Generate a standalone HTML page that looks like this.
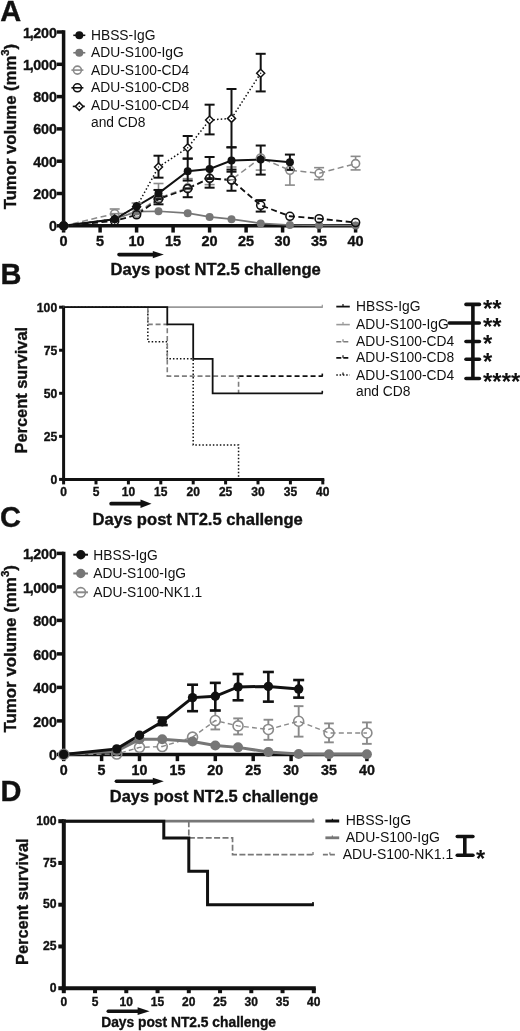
<!DOCTYPE html>
<html><head><meta charset="utf-8"><title>Figure</title>
<style>html,body{margin:0;padding:0;background:#fff;}body{width:520px;height:1031px;overflow:hidden;}svg{display:block;}</style>
</head><body>
<svg width="520" height="1031" viewBox="0 0 520 1031" font-family="'Liberation Sans', Arial, Helvetica, sans-serif">
<rect width="520" height="1031" fill="#fff"/>
<text x="0.30" y="21.00" font-size="29" font-weight="bold" text-anchor="start" fill="#111"  stroke="#111" stroke-width="0.35">A</text>
<line x1="63.60" y1="30.25" x2="63.60" y2="227.55" stroke="#111" stroke-width="3.5" stroke-linecap="butt"/>
<line x1="61.85" y1="225.80" x2="357.35" y2="225.80" stroke="#111" stroke-width="3.5" stroke-linecap="butt"/>
<line x1="56.85" y1="225.80" x2="63.60" y2="225.80" stroke="#111" stroke-width="3.5" stroke-linecap="butt"/>
<text x="57.00" y="231.30" font-size="14.3" font-weight="bold" text-anchor="end" fill="#111"  stroke="#111" stroke-width="0.35">0</text>
<line x1="56.85" y1="193.50" x2="63.60" y2="193.50" stroke="#111" stroke-width="3.5" stroke-linecap="butt"/>
<text x="57.00" y="199.00" font-size="14.3" font-weight="bold" text-anchor="end" fill="#111"  stroke="#111" stroke-width="0.35">200</text>
<line x1="56.85" y1="161.20" x2="63.60" y2="161.20" stroke="#111" stroke-width="3.5" stroke-linecap="butt"/>
<text x="57.00" y="166.70" font-size="14.3" font-weight="bold" text-anchor="end" fill="#111"  stroke="#111" stroke-width="0.35">400</text>
<line x1="56.85" y1="128.90" x2="63.60" y2="128.90" stroke="#111" stroke-width="3.5" stroke-linecap="butt"/>
<text x="57.00" y="134.40" font-size="14.3" font-weight="bold" text-anchor="end" fill="#111"  stroke="#111" stroke-width="0.35">600</text>
<line x1="56.85" y1="96.60" x2="63.60" y2="96.60" stroke="#111" stroke-width="3.5" stroke-linecap="butt"/>
<text x="57.00" y="102.10" font-size="14.3" font-weight="bold" text-anchor="end" fill="#111"  stroke="#111" stroke-width="0.35">800</text>
<line x1="56.85" y1="64.30" x2="63.60" y2="64.30" stroke="#111" stroke-width="3.5" stroke-linecap="butt"/>
<text x="57.00" y="69.80" font-size="14.3" font-weight="bold" text-anchor="end" fill="#111"  stroke="#111" stroke-width="0.35"><tspan dx="0">1</tspan><tspan dx="-1.3">,</tspan><tspan dx="-0.6">000</tspan></text>
<line x1="56.85" y1="32.00" x2="63.60" y2="32.00" stroke="#111" stroke-width="3.5" stroke-linecap="butt"/>
<text x="57.00" y="37.50" font-size="14.3" font-weight="bold" text-anchor="end" fill="#111"  stroke="#111" stroke-width="0.35"><tspan dx="0">1</tspan><tspan dx="-1.3">,</tspan><tspan dx="-0.6">200</tspan></text>
<line x1="63.60" y1="225.80" x2="63.60" y2="232.55" stroke="#111" stroke-width="3.5" stroke-linecap="butt"/>
<text x="63.60" y="245.80" font-size="14.5" font-weight="bold" text-anchor="middle" fill="#111"  stroke="#111" stroke-width="0.35">0</text>
<line x1="100.10" y1="225.80" x2="100.10" y2="232.55" stroke="#111" stroke-width="3.5" stroke-linecap="butt"/>
<text x="100.10" y="245.80" font-size="14.5" font-weight="bold" text-anchor="middle" fill="#111"  stroke="#111" stroke-width="0.35">5</text>
<line x1="136.60" y1="225.80" x2="136.60" y2="232.55" stroke="#111" stroke-width="3.5" stroke-linecap="butt"/>
<text x="136.60" y="245.80" font-size="14.5" font-weight="bold" text-anchor="middle" fill="#111"  stroke="#111" stroke-width="0.35">10</text>
<line x1="173.10" y1="225.80" x2="173.10" y2="232.55" stroke="#111" stroke-width="3.5" stroke-linecap="butt"/>
<text x="173.10" y="245.80" font-size="14.5" font-weight="bold" text-anchor="middle" fill="#111"  stroke="#111" stroke-width="0.35">15</text>
<line x1="209.60" y1="225.80" x2="209.60" y2="232.55" stroke="#111" stroke-width="3.5" stroke-linecap="butt"/>
<text x="209.60" y="245.80" font-size="14.5" font-weight="bold" text-anchor="middle" fill="#111"  stroke="#111" stroke-width="0.35">20</text>
<line x1="246.10" y1="225.80" x2="246.10" y2="232.55" stroke="#111" stroke-width="3.5" stroke-linecap="butt"/>
<text x="246.10" y="245.80" font-size="14.5" font-weight="bold" text-anchor="middle" fill="#111"  stroke="#111" stroke-width="0.35">25</text>
<line x1="282.60" y1="225.80" x2="282.60" y2="232.55" stroke="#111" stroke-width="3.5" stroke-linecap="butt"/>
<text x="282.60" y="245.80" font-size="14.5" font-weight="bold" text-anchor="middle" fill="#111"  stroke="#111" stroke-width="0.35">30</text>
<line x1="319.10" y1="225.80" x2="319.10" y2="232.55" stroke="#111" stroke-width="3.5" stroke-linecap="butt"/>
<text x="319.10" y="245.80" font-size="14.5" font-weight="bold" text-anchor="middle" fill="#111"  stroke="#111" stroke-width="0.35">35</text>
<line x1="355.60" y1="225.80" x2="355.60" y2="232.55" stroke="#111" stroke-width="3.5" stroke-linecap="butt"/>
<text x="355.60" y="245.80" font-size="14.5" font-weight="bold" text-anchor="middle" fill="#111"  stroke="#111" stroke-width="0.35">40</text>
<text transform="translate(16.3,209.3) rotate(-90)" font-size="16.7" font-weight="bold" fill="#111" stroke="#111" stroke-width="0.35">Tumor volume (mm<tspan dy="-7" font-size="11.3">3</tspan><tspan dy="7">)</tspan></text>
<line x1="119.00" y1="254.60" x2="153.80" y2="254.60" stroke="#111" stroke-width="3.6" stroke-linecap="round"/>
<polygon points="152.80,251.00 163.80,254.60 152.80,258.20" fill="#111"/>
<text x="110.60" y="275.00" font-size="16.6" font-weight="bold" text-anchor="start" fill="#111"  stroke="#111" stroke-width="0.35">Days post NT2.5 challenge</text>
<polyline points="63.60,225.80 114.70,219.02 136.60,211.59 158.50,211.27 187.70,213.20 209.60,216.92 231.50,219.18 260.70,223.38 289.90,224.99 319.10,225.32 355.60,225.48" fill="none" stroke="#767676" stroke-width="1.7" stroke-linecap="butt" stroke-linejoin="miter"/>
<polyline points="63.60,225.80 114.70,213.69 136.60,213.20 158.50,198.02 187.70,187.85 209.60,178.32 231.50,179.77 260.70,157.97 289.90,170.24 319.10,173.31 355.60,163.62" fill="none" stroke="#8a8a8a" stroke-width="1.5" stroke-linecap="butt" stroke-linejoin="miter" stroke-dasharray="6,3.5"/>
<polyline points="63.60,225.80 114.70,220.96 136.60,214.82 158.50,199.15 187.70,188.66 209.60,178.32 231.50,180.10 260.70,205.29 289.90,216.27 319.10,218.69 355.60,222.57" fill="none" stroke="#111" stroke-width="1.8" stroke-linecap="butt" stroke-linejoin="miter" stroke-dasharray="6,3.5"/>
<polyline points="63.60,225.80 114.70,219.02 136.60,206.74 158.50,167.01 187.70,147.80 209.60,120.02 231.50,118.40 260.70,73.18" fill="none" stroke="#111" stroke-width="1.5" stroke-linecap="butt" stroke-linejoin="miter" stroke-dasharray="1.5,2.2"/>
<polyline points="63.60,225.80 114.70,219.34 136.60,206.26 158.50,193.34 187.70,171.21 209.60,168.95 231.50,160.55 260.70,159.59 289.90,162.33" fill="none" stroke="#111" stroke-width="2.0" stroke-linecap="butt" stroke-linejoin="miter"/>
<line x1="114.70" y1="209.00" x2="114.70" y2="209.69" stroke="#8a8a8a" stroke-width="1.6" stroke-linecap="butt"/>
<line x1="109.70" y1="209.00" x2="119.70" y2="209.00" stroke="#8a8a8a" stroke-width="1.6" stroke-linecap="butt"/>
<line x1="109.70" y1="213.69" x2="119.70" y2="213.69" stroke="#8a8a8a" stroke-width="1.6" stroke-linecap="butt"/>
<line x1="136.60" y1="203.03" x2="136.60" y2="209.20" stroke="#8a8a8a" stroke-width="1.6" stroke-linecap="butt"/>
<line x1="131.60" y1="203.03" x2="141.60" y2="203.03" stroke="#8a8a8a" stroke-width="1.6" stroke-linecap="butt"/>
<line x1="131.60" y1="213.20" x2="141.60" y2="213.20" stroke="#8a8a8a" stroke-width="1.6" stroke-linecap="butt"/>
<line x1="158.50" y1="183.49" x2="158.50" y2="194.02" stroke="#8a8a8a" stroke-width="1.6" stroke-linecap="butt"/>
<line x1="153.50" y1="183.49" x2="163.50" y2="183.49" stroke="#8a8a8a" stroke-width="1.6" stroke-linecap="butt"/>
<line x1="153.50" y1="198.02" x2="163.50" y2="198.02" stroke="#8a8a8a" stroke-width="1.6" stroke-linecap="butt"/>
<line x1="187.70" y1="178.64" x2="187.70" y2="183.85" stroke="#8a8a8a" stroke-width="1.6" stroke-linecap="butt"/>
<line x1="182.70" y1="178.64" x2="192.70" y2="178.64" stroke="#8a8a8a" stroke-width="1.6" stroke-linecap="butt"/>
<line x1="182.70" y1="187.85" x2="192.70" y2="187.85" stroke="#8a8a8a" stroke-width="1.6" stroke-linecap="butt"/>
<line x1="209.60" y1="182.32" x2="209.60" y2="184.62" stroke="#8a8a8a" stroke-width="1.6" stroke-linecap="butt"/>
<line x1="204.60" y1="178.32" x2="214.60" y2="178.32" stroke="#8a8a8a" stroke-width="1.6" stroke-linecap="butt"/>
<line x1="204.60" y1="184.62" x2="214.60" y2="184.62" stroke="#8a8a8a" stroke-width="1.6" stroke-linecap="butt"/>
<line x1="231.50" y1="167.01" x2="231.50" y2="175.77" stroke="#8a8a8a" stroke-width="1.6" stroke-linecap="butt"/>
<line x1="226.50" y1="167.01" x2="236.50" y2="167.01" stroke="#8a8a8a" stroke-width="1.6" stroke-linecap="butt"/>
<line x1="226.50" y1="179.77" x2="236.50" y2="179.77" stroke="#8a8a8a" stroke-width="1.6" stroke-linecap="butt"/>
<line x1="260.70" y1="161.97" x2="260.70" y2="170.08" stroke="#8a8a8a" stroke-width="1.6" stroke-linecap="butt"/>
<line x1="255.70" y1="157.97" x2="265.70" y2="157.97" stroke="#8a8a8a" stroke-width="1.6" stroke-linecap="butt"/>
<line x1="255.70" y1="170.08" x2="265.70" y2="170.08" stroke="#8a8a8a" stroke-width="1.6" stroke-linecap="butt"/>
<line x1="289.90" y1="174.24" x2="289.90" y2="185.10" stroke="#8a8a8a" stroke-width="1.6" stroke-linecap="butt"/>
<line x1="284.90" y1="170.24" x2="294.90" y2="170.24" stroke="#8a8a8a" stroke-width="1.6" stroke-linecap="butt"/>
<line x1="284.90" y1="185.10" x2="294.90" y2="185.10" stroke="#8a8a8a" stroke-width="1.6" stroke-linecap="butt"/>
<line x1="319.10" y1="167.66" x2="319.10" y2="169.31" stroke="#8a8a8a" stroke-width="1.6" stroke-linecap="butt"/>
<line x1="319.10" y1="177.31" x2="319.10" y2="179.61" stroke="#8a8a8a" stroke-width="1.6" stroke-linecap="butt"/>
<line x1="314.10" y1="167.66" x2="324.10" y2="167.66" stroke="#8a8a8a" stroke-width="1.6" stroke-linecap="butt"/>
<line x1="314.10" y1="179.61" x2="324.10" y2="179.61" stroke="#8a8a8a" stroke-width="1.6" stroke-linecap="butt"/>
<line x1="355.60" y1="156.36" x2="355.60" y2="159.62" stroke="#8a8a8a" stroke-width="1.6" stroke-linecap="butt"/>
<line x1="355.60" y1="167.62" x2="355.60" y2="169.92" stroke="#8a8a8a" stroke-width="1.6" stroke-linecap="butt"/>
<line x1="350.60" y1="156.36" x2="360.60" y2="156.36" stroke="#8a8a8a" stroke-width="1.6" stroke-linecap="butt"/>
<line x1="350.60" y1="169.92" x2="360.60" y2="169.92" stroke="#8a8a8a" stroke-width="1.6" stroke-linecap="butt"/>
<line x1="158.50" y1="203.15" x2="158.50" y2="204.32" stroke="#111" stroke-width="2.0" stroke-linecap="butt"/>
<line x1="153.50" y1="199.15" x2="163.50" y2="199.15" stroke="#111" stroke-width="2.0" stroke-linecap="butt"/>
<line x1="153.50" y1="204.32" x2="163.50" y2="204.32" stroke="#111" stroke-width="2.0" stroke-linecap="butt"/>
<line x1="187.70" y1="192.66" x2="187.70" y2="197.21" stroke="#111" stroke-width="2.0" stroke-linecap="butt"/>
<line x1="182.70" y1="188.66" x2="192.70" y2="188.66" stroke="#111" stroke-width="2.0" stroke-linecap="butt"/>
<line x1="182.70" y1="197.21" x2="192.70" y2="197.21" stroke="#111" stroke-width="2.0" stroke-linecap="butt"/>
<line x1="209.60" y1="182.32" x2="209.60" y2="187.69" stroke="#111" stroke-width="2.0" stroke-linecap="butt"/>
<line x1="204.60" y1="178.32" x2="214.60" y2="178.32" stroke="#111" stroke-width="2.0" stroke-linecap="butt"/>
<line x1="204.60" y1="187.69" x2="214.60" y2="187.69" stroke="#111" stroke-width="2.0" stroke-linecap="butt"/>
<line x1="231.50" y1="169.60" x2="231.50" y2="176.10" stroke="#111" stroke-width="2.0" stroke-linecap="butt"/>
<line x1="231.50" y1="184.10" x2="231.50" y2="190.75" stroke="#111" stroke-width="2.0" stroke-linecap="butt"/>
<line x1="226.50" y1="169.60" x2="236.50" y2="169.60" stroke="#111" stroke-width="2.0" stroke-linecap="butt"/>
<line x1="226.50" y1="190.75" x2="236.50" y2="190.75" stroke="#111" stroke-width="2.0" stroke-linecap="butt"/>
<line x1="260.70" y1="200.12" x2="260.70" y2="201.29" stroke="#111" stroke-width="2.0" stroke-linecap="butt"/>
<line x1="260.70" y1="209.29" x2="260.70" y2="211.59" stroke="#111" stroke-width="2.0" stroke-linecap="butt"/>
<line x1="255.70" y1="200.12" x2="265.70" y2="200.12" stroke="#111" stroke-width="2.0" stroke-linecap="butt"/>
<line x1="255.70" y1="211.59" x2="265.70" y2="211.59" stroke="#111" stroke-width="2.0" stroke-linecap="butt"/>
<line x1="158.50" y1="155.71" x2="158.50" y2="163.01" stroke="#111" stroke-width="2.0" stroke-linecap="butt"/>
<line x1="158.50" y1="171.01" x2="158.50" y2="177.67" stroke="#111" stroke-width="2.0" stroke-linecap="butt"/>
<line x1="153.50" y1="155.71" x2="163.50" y2="155.71" stroke="#111" stroke-width="2.0" stroke-linecap="butt"/>
<line x1="153.50" y1="177.67" x2="163.50" y2="177.67" stroke="#111" stroke-width="2.0" stroke-linecap="butt"/>
<line x1="187.70" y1="136.01" x2="187.70" y2="143.80" stroke="#111" stroke-width="2.0" stroke-linecap="butt"/>
<line x1="187.70" y1="151.80" x2="187.70" y2="158.62" stroke="#111" stroke-width="2.0" stroke-linecap="butt"/>
<line x1="182.70" y1="136.01" x2="192.70" y2="136.01" stroke="#111" stroke-width="2.0" stroke-linecap="butt"/>
<line x1="182.70" y1="158.62" x2="192.70" y2="158.62" stroke="#111" stroke-width="2.0" stroke-linecap="butt"/>
<line x1="209.60" y1="104.68" x2="209.60" y2="116.02" stroke="#111" stroke-width="2.0" stroke-linecap="butt"/>
<line x1="209.60" y1="124.02" x2="209.60" y2="134.39" stroke="#111" stroke-width="2.0" stroke-linecap="butt"/>
<line x1="204.60" y1="104.68" x2="214.60" y2="104.68" stroke="#111" stroke-width="2.0" stroke-linecap="butt"/>
<line x1="204.60" y1="134.39" x2="214.60" y2="134.39" stroke="#111" stroke-width="2.0" stroke-linecap="butt"/>
<line x1="231.50" y1="89.01" x2="231.50" y2="114.40" stroke="#111" stroke-width="2.0" stroke-linecap="butt"/>
<line x1="231.50" y1="122.40" x2="231.50" y2="147.31" stroke="#111" stroke-width="2.0" stroke-linecap="butt"/>
<line x1="226.50" y1="89.01" x2="236.50" y2="89.01" stroke="#111" stroke-width="2.0" stroke-linecap="butt"/>
<line x1="226.50" y1="147.31" x2="236.50" y2="147.31" stroke="#111" stroke-width="2.0" stroke-linecap="butt"/>
<line x1="260.70" y1="53.80" x2="260.70" y2="69.18" stroke="#111" stroke-width="2.0" stroke-linecap="butt"/>
<line x1="260.70" y1="77.18" x2="260.70" y2="91.43" stroke="#111" stroke-width="2.0" stroke-linecap="butt"/>
<line x1="255.70" y1="53.80" x2="265.70" y2="53.80" stroke="#111" stroke-width="2.0" stroke-linecap="butt"/>
<line x1="255.70" y1="91.43" x2="265.70" y2="91.43" stroke="#111" stroke-width="2.0" stroke-linecap="butt"/>
<line x1="158.50" y1="189.95" x2="158.50" y2="196.41" stroke="#111" stroke-width="2.0" stroke-linecap="butt"/>
<line x1="153.50" y1="189.95" x2="163.50" y2="189.95" stroke="#111" stroke-width="2.0" stroke-linecap="butt"/>
<line x1="153.50" y1="196.41" x2="163.50" y2="196.41" stroke="#111" stroke-width="2.0" stroke-linecap="butt"/>
<line x1="187.70" y1="158.62" x2="187.70" y2="180.58" stroke="#111" stroke-width="2.0" stroke-linecap="butt"/>
<line x1="182.70" y1="158.62" x2="192.70" y2="158.62" stroke="#111" stroke-width="2.0" stroke-linecap="butt"/>
<line x1="182.70" y1="180.58" x2="192.70" y2="180.58" stroke="#111" stroke-width="2.0" stroke-linecap="butt"/>
<line x1="209.60" y1="157.00" x2="209.60" y2="178.97" stroke="#111" stroke-width="2.0" stroke-linecap="butt"/>
<line x1="204.60" y1="157.00" x2="214.60" y2="157.00" stroke="#111" stroke-width="2.0" stroke-linecap="butt"/>
<line x1="204.60" y1="178.97" x2="214.60" y2="178.97" stroke="#111" stroke-width="2.0" stroke-linecap="butt"/>
<line x1="231.50" y1="147.31" x2="231.50" y2="171.70" stroke="#111" stroke-width="2.0" stroke-linecap="butt"/>
<line x1="226.50" y1="147.31" x2="236.50" y2="147.31" stroke="#111" stroke-width="2.0" stroke-linecap="butt"/>
<line x1="226.50" y1="171.70" x2="236.50" y2="171.70" stroke="#111" stroke-width="2.0" stroke-linecap="butt"/>
<line x1="260.70" y1="145.53" x2="260.70" y2="174.60" stroke="#111" stroke-width="2.0" stroke-linecap="butt"/>
<line x1="255.70" y1="145.53" x2="265.70" y2="145.53" stroke="#111" stroke-width="2.0" stroke-linecap="butt"/>
<line x1="255.70" y1="174.60" x2="265.70" y2="174.60" stroke="#111" stroke-width="2.0" stroke-linecap="butt"/>
<line x1="289.90" y1="154.58" x2="289.90" y2="169.76" stroke="#111" stroke-width="2.0" stroke-linecap="butt"/>
<line x1="284.90" y1="154.58" x2="294.90" y2="154.58" stroke="#111" stroke-width="2.0" stroke-linecap="butt"/>
<line x1="284.90" y1="169.76" x2="294.90" y2="169.76" stroke="#111" stroke-width="2.0" stroke-linecap="butt"/>
<circle cx="63.60" cy="225.80" r="4.0" fill="#767676"/>
<circle cx="114.70" cy="219.02" r="4.0" fill="#767676"/>
<circle cx="136.60" cy="211.59" r="4.0" fill="#767676"/>
<circle cx="158.50" cy="211.27" r="4.0" fill="#767676"/>
<circle cx="187.70" cy="213.20" r="4.0" fill="#767676"/>
<circle cx="209.60" cy="216.92" r="4.0" fill="#767676"/>
<circle cx="231.50" cy="219.18" r="4.0" fill="#767676"/>
<circle cx="260.70" cy="223.38" r="4.0" fill="#767676"/>
<circle cx="289.90" cy="224.99" r="4.0" fill="#767676"/>
<circle cx="319.10" cy="225.32" r="4.0" fill="#767676"/>
<circle cx="355.60" cy="225.48" r="4.0" fill="#767676"/>
<circle cx="63.60" cy="225.80" r="4.0" fill="none" stroke="#8a8a8a" stroke-width="1.6"/>
<circle cx="114.70" cy="213.69" r="4.0" fill="none" stroke="#8a8a8a" stroke-width="1.6"/>
<circle cx="136.60" cy="213.20" r="4.0" fill="none" stroke="#8a8a8a" stroke-width="1.6"/>
<circle cx="158.50" cy="198.02" r="4.0" fill="none" stroke="#8a8a8a" stroke-width="1.6"/>
<circle cx="187.70" cy="187.85" r="4.0" fill="none" stroke="#8a8a8a" stroke-width="1.6"/>
<circle cx="209.60" cy="178.32" r="4.0" fill="none" stroke="#8a8a8a" stroke-width="1.6"/>
<circle cx="231.50" cy="179.77" r="4.0" fill="none" stroke="#8a8a8a" stroke-width="1.6"/>
<circle cx="260.70" cy="157.97" r="4.0" fill="none" stroke="#8a8a8a" stroke-width="1.6"/>
<circle cx="289.90" cy="170.24" r="4.0" fill="none" stroke="#8a8a8a" stroke-width="1.6"/>
<circle cx="319.10" cy="173.31" r="4.0" fill="none" stroke="#8a8a8a" stroke-width="1.6"/>
<circle cx="355.60" cy="163.62" r="4.0" fill="none" stroke="#8a8a8a" stroke-width="1.6"/>
<circle cx="63.60" cy="225.80" r="4.0" fill="none" stroke="#111" stroke-width="1.6"/>
<circle cx="114.70" cy="220.96" r="4.0" fill="none" stroke="#111" stroke-width="1.6"/>
<circle cx="136.60" cy="214.82" r="4.0" fill="none" stroke="#111" stroke-width="1.6"/>
<circle cx="158.50" cy="199.15" r="4.0" fill="none" stroke="#111" stroke-width="1.6"/>
<circle cx="187.70" cy="188.66" r="4.0" fill="none" stroke="#111" stroke-width="1.6"/>
<circle cx="209.60" cy="178.32" r="4.0" fill="none" stroke="#111" stroke-width="1.6"/>
<circle cx="231.50" cy="180.10" r="4.0" fill="none" stroke="#111" stroke-width="1.6"/>
<circle cx="260.70" cy="205.29" r="4.0" fill="none" stroke="#111" stroke-width="1.6"/>
<circle cx="289.90" cy="216.27" r="4.0" fill="none" stroke="#111" stroke-width="1.6"/>
<circle cx="319.10" cy="218.69" r="4.0" fill="none" stroke="#111" stroke-width="1.6"/>
<circle cx="355.60" cy="222.57" r="4.0" fill="none" stroke="#111" stroke-width="1.6"/>
<polygon points="63.60,221.80 67.60,225.80 63.60,229.80 59.60,225.80" fill="#fff" stroke="#111" stroke-width="1.5"/>
<circle cx="63.60" cy="225.80" r="0.7" fill="#111"/>
<polygon points="114.70,215.02 118.70,219.02 114.70,223.02 110.70,219.02" fill="#fff" stroke="#111" stroke-width="1.5"/>
<circle cx="114.70" cy="219.02" r="0.7" fill="#111"/>
<polygon points="136.60,202.74 140.60,206.74 136.60,210.74 132.60,206.74" fill="#fff" stroke="#111" stroke-width="1.5"/>
<circle cx="136.60" cy="206.74" r="0.7" fill="#111"/>
<polygon points="158.50,163.01 162.50,167.01 158.50,171.01 154.50,167.01" fill="#fff" stroke="#111" stroke-width="1.5"/>
<circle cx="158.50" cy="167.01" r="0.7" fill="#111"/>
<polygon points="187.70,143.80 191.70,147.80 187.70,151.80 183.70,147.80" fill="#fff" stroke="#111" stroke-width="1.5"/>
<circle cx="187.70" cy="147.80" r="0.7" fill="#111"/>
<polygon points="209.60,116.02 213.60,120.02 209.60,124.02 205.60,120.02" fill="#fff" stroke="#111" stroke-width="1.5"/>
<circle cx="209.60" cy="120.02" r="0.7" fill="#111"/>
<polygon points="231.50,114.40 235.50,118.40 231.50,122.40 227.50,118.40" fill="#fff" stroke="#111" stroke-width="1.5"/>
<circle cx="231.50" cy="118.40" r="0.7" fill="#111"/>
<polygon points="260.70,69.18 264.70,73.18 260.70,77.18 256.70,73.18" fill="#fff" stroke="#111" stroke-width="1.5"/>
<circle cx="260.70" cy="73.18" r="0.7" fill="#111"/>
<circle cx="63.60" cy="225.80" r="4.0" fill="#111"/>
<circle cx="114.70" cy="219.34" r="4.0" fill="#111"/>
<circle cx="136.60" cy="206.26" r="4.0" fill="#111"/>
<circle cx="158.50" cy="193.34" r="4.0" fill="#111"/>
<circle cx="187.70" cy="171.21" r="4.0" fill="#111"/>
<circle cx="209.60" cy="168.95" r="4.0" fill="#111"/>
<circle cx="231.50" cy="160.55" r="4.0" fill="#111"/>
<circle cx="260.70" cy="159.59" r="4.0" fill="#111"/>
<circle cx="289.90" cy="162.33" r="4.0" fill="#111"/>
<line x1="73.30" y1="35.30" x2="85.30" y2="35.30" stroke="#111" stroke-width="1.6" stroke-linecap="butt"/>
<circle cx="79.30" cy="35.30" r="4.0" fill="#111"/>
<text x="91.00" y="40.10" font-size="13.8" font-weight="normal" text-anchor="start" fill="#111" >HBSS-IgG</text>
<line x1="73.30" y1="52.75" x2="85.30" y2="52.75" stroke="#767676" stroke-width="1.6" stroke-linecap="butt"/>
<circle cx="79.30" cy="52.75" r="4.0" fill="#767676"/>
<text x="91.00" y="57.20" font-size="13.8" font-weight="normal" text-anchor="start" fill="#111" >ADU-S100-IgG</text>
<line x1="71.40" y1="70.10" x2="83.40" y2="70.10" stroke="#8a8a8a" stroke-width="1.6" stroke-linecap="butt"/>
<circle cx="77.40" cy="70.10" r="4.0" fill="none" stroke="#8a8a8a" stroke-width="1.6"/>
<text x="91.00" y="74.70" font-size="13.8" font-weight="normal" text-anchor="start" fill="#111" >ADU-S100-CD4</text>
<line x1="71.40" y1="87.80" x2="83.40" y2="87.80" stroke="#111" stroke-width="1.6" stroke-linecap="butt"/>
<circle cx="77.40" cy="87.80" r="4.0" fill="none" stroke="#111" stroke-width="1.6"/>
<text x="91.00" y="92.00" font-size="13.8" font-weight="normal" text-anchor="start" fill="#111" >ADU-S100-CD8</text>
<line x1="72.80" y1="106.40" x2="75.30" y2="106.40" stroke="#111" stroke-width="1.6" stroke-linecap="butt"/>
<line x1="83.30" y1="106.40" x2="84.80" y2="106.40" stroke="#111" stroke-width="1.6" stroke-linecap="butt"/>
<polygon points="79.30,102.40 83.30,106.40 79.30,110.40 75.30,106.40" fill="#fff" stroke="#111" stroke-width="1.5"/>
<circle cx="79.30" cy="106.40" r="0.7" fill="#111"/>
<text x="91.00" y="110.10" font-size="13.8" font-weight="normal" text-anchor="start" fill="#111" >ADU-S100-CD4</text>
<text x="91.00" y="126.70" font-size="13.8" font-weight="normal" text-anchor="start" fill="#111" >and CD8</text>
<text x="0.40" y="283.60" font-size="29" font-weight="bold" text-anchor="start" fill="#111"  stroke="#111" stroke-width="0.35">B</text>
<line x1="63.60" y1="305.70" x2="63.60" y2="480.90" stroke="#111" stroke-width="3.0" stroke-linecap="butt"/>
<line x1="62.10" y1="479.40" x2="324.30" y2="479.40" stroke="#111" stroke-width="3.0" stroke-linecap="butt"/>
<line x1="59.10" y1="479.40" x2="63.60" y2="479.40" stroke="#111" stroke-width="3.0" stroke-linecap="butt"/>
<text x="57.20" y="483.70" font-size="12.2" font-weight="bold" text-anchor="end" fill="#111"  stroke="#111" stroke-width="0.35">0</text>
<line x1="59.10" y1="436.35" x2="63.60" y2="436.35" stroke="#111" stroke-width="3.0" stroke-linecap="butt"/>
<text x="57.20" y="440.65" font-size="12.2" font-weight="bold" text-anchor="end" fill="#111"  stroke="#111" stroke-width="0.35">25</text>
<line x1="59.10" y1="393.30" x2="63.60" y2="393.30" stroke="#111" stroke-width="3.0" stroke-linecap="butt"/>
<text x="57.20" y="397.60" font-size="12.2" font-weight="bold" text-anchor="end" fill="#111"  stroke="#111" stroke-width="0.35">50</text>
<line x1="59.10" y1="350.25" x2="63.60" y2="350.25" stroke="#111" stroke-width="3.0" stroke-linecap="butt"/>
<text x="57.20" y="354.55" font-size="12.2" font-weight="bold" text-anchor="end" fill="#111"  stroke="#111" stroke-width="0.35">75</text>
<line x1="59.10" y1="307.20" x2="63.60" y2="307.20" stroke="#111" stroke-width="3.0" stroke-linecap="butt"/>
<text x="57.20" y="311.50" font-size="12.2" font-weight="bold" text-anchor="end" fill="#111"  stroke="#111" stroke-width="0.35">100</text>
<line x1="63.60" y1="479.40" x2="63.60" y2="484.40" stroke="#111" stroke-width="3.0" stroke-linecap="butt"/>
<text x="63.60" y="496.00" font-size="12" font-weight="bold" text-anchor="middle" fill="#111"  stroke="#111" stroke-width="0.35">0</text>
<line x1="96.00" y1="479.40" x2="96.00" y2="484.40" stroke="#111" stroke-width="3.0" stroke-linecap="butt"/>
<text x="96.00" y="496.00" font-size="12" font-weight="bold" text-anchor="middle" fill="#111"  stroke="#111" stroke-width="0.35">5</text>
<line x1="128.40" y1="479.40" x2="128.40" y2="484.40" stroke="#111" stroke-width="3.0" stroke-linecap="butt"/>
<text x="128.40" y="496.00" font-size="12" font-weight="bold" text-anchor="middle" fill="#111"  stroke="#111" stroke-width="0.35">10</text>
<line x1="160.80" y1="479.40" x2="160.80" y2="484.40" stroke="#111" stroke-width="3.0" stroke-linecap="butt"/>
<text x="160.80" y="496.00" font-size="12" font-weight="bold" text-anchor="middle" fill="#111"  stroke="#111" stroke-width="0.35">15</text>
<line x1="193.20" y1="479.40" x2="193.20" y2="484.40" stroke="#111" stroke-width="3.0" stroke-linecap="butt"/>
<text x="193.20" y="496.00" font-size="12" font-weight="bold" text-anchor="middle" fill="#111"  stroke="#111" stroke-width="0.35">20</text>
<line x1="225.60" y1="479.40" x2="225.60" y2="484.40" stroke="#111" stroke-width="3.0" stroke-linecap="butt"/>
<text x="225.60" y="496.00" font-size="12" font-weight="bold" text-anchor="middle" fill="#111"  stroke="#111" stroke-width="0.35">25</text>
<line x1="258.00" y1="479.40" x2="258.00" y2="484.40" stroke="#111" stroke-width="3.0" stroke-linecap="butt"/>
<text x="258.00" y="496.00" font-size="12" font-weight="bold" text-anchor="middle" fill="#111"  stroke="#111" stroke-width="0.35">30</text>
<line x1="290.40" y1="479.40" x2="290.40" y2="484.40" stroke="#111" stroke-width="3.0" stroke-linecap="butt"/>
<text x="290.40" y="496.00" font-size="12" font-weight="bold" text-anchor="middle" fill="#111"  stroke="#111" stroke-width="0.35">35</text>
<line x1="322.80" y1="479.40" x2="322.80" y2="484.40" stroke="#111" stroke-width="3.0" stroke-linecap="butt"/>
<text x="322.80" y="496.00" font-size="12" font-weight="bold" text-anchor="middle" fill="#111"  stroke="#111" stroke-width="0.35">40</text>
<text transform="translate(26.9,453.5) rotate(-90)" font-size="16.4" font-weight="bold" fill="#111" stroke="#111" stroke-width="0.35">Percent survival</text>
<line x1="111.20" y1="503.70" x2="141.50" y2="503.70" stroke="#111" stroke-width="3.8" stroke-linecap="round"/>
<polygon points="140.50,499.50 151.50,503.70 140.50,507.90" fill="#111"/>
<text x="92.60" y="525.20" font-size="16.6" font-weight="bold" text-anchor="start" fill="#111"  stroke="#111" stroke-width="0.35">Days post NT2.5 challenge</text>
<polyline points="63.60,307.20 322.80,307.20 322.80,307.20" fill="none" stroke="#999" stroke-width="1.8" stroke-linecap="butt" stroke-linejoin="miter"/>
<polyline points="238.56,376.08 322.80,376.08 322.80,376.08" fill="none" stroke="#111" stroke-width="1.8" stroke-linecap="butt" stroke-linejoin="miter" stroke-dasharray="5,3"/>
<polyline points="63.60,307.20 147.84,307.20 147.84,307.20 147.84,307.20 147.84,341.64 167.28,341.64 167.28,341.64 167.28,341.64 167.28,358.86 193.20,358.86 193.20,358.86 193.20,358.86 193.20,444.96 238.56,444.96 238.56,444.96 238.56,444.96 238.56,479.40" fill="none" stroke="#111" stroke-width="1.5" stroke-linecap="butt" stroke-linejoin="miter" stroke-dasharray="1.5,2"/>
<polyline points="63.60,307.20 147.84,307.20 147.84,307.20 147.84,307.20 147.84,324.42 167.28,324.42 167.28,324.42 167.28,324.42 167.28,376.08 238.56,376.08 238.56,376.08 238.56,376.08 238.56,393.30" fill="none" stroke="#7e7e7e" stroke-width="1.6" stroke-linecap="butt" stroke-linejoin="miter" stroke-dasharray="5,2.8"/>
<polyline points="63.60,307.20 167.28,307.20 167.28,307.20 167.28,307.20 167.28,324.42 193.20,324.42 193.20,324.42 193.20,324.42 193.20,358.86 212.64,358.86 212.64,358.86 212.64,358.86 212.64,393.30 322.80,393.30 322.80,393.30" fill="none" stroke="#111" stroke-width="1.8" stroke-linecap="butt" stroke-linejoin="miter"/>
<line x1="322.30" y1="393.30" x2="322.30" y2="390.80" stroke="#111" stroke-width="1.6" stroke-linecap="butt"/>
<line x1="322.30" y1="376.08" x2="322.30" y2="373.58" stroke="#111" stroke-width="1.6" stroke-linecap="butt"/>
<line x1="322.30" y1="307.20" x2="322.30" y2="304.70" stroke="#999" stroke-width="1.2" stroke-linecap="butt"/>
<line x1="336.30" y1="306.60" x2="349.80" y2="306.60" stroke="#111" stroke-width="1.8" stroke-linecap="butt"/>
<line x1="343.00" y1="306.60" x2="343.00" y2="304.10" stroke="#111" stroke-width="1.2" stroke-linecap="butt"/>
<text x="356.00" y="311.20" font-size="13.8" font-weight="normal" text-anchor="start" fill="#111" >HBSS-IgG</text>
<line x1="336.30" y1="324.60" x2="349.80" y2="324.60" stroke="#999" stroke-width="1.6" stroke-linecap="butt"/>
<line x1="343.00" y1="324.60" x2="343.00" y2="322.10" stroke="#999" stroke-width="1.2" stroke-linecap="butt"/>
<text x="356.00" y="329.20" font-size="13.8" font-weight="normal" text-anchor="start" fill="#111" >ADU-S100-IgG</text>
<line x1="336.30" y1="341.70" x2="349.80" y2="341.70" stroke="#7e7e7e" stroke-width="1.5" stroke-linecap="butt" stroke-dasharray="5,2"/>
<line x1="343.00" y1="341.70" x2="343.00" y2="339.20" stroke="#7e7e7e" stroke-width="1.2" stroke-linecap="butt"/>
<text x="356.00" y="346.30" font-size="13.8" font-weight="normal" text-anchor="start" fill="#111" >ADU-S100-CD4</text>
<line x1="336.30" y1="357.80" x2="349.80" y2="357.80" stroke="#111" stroke-width="1.8" stroke-linecap="butt" stroke-dasharray="5,2"/>
<line x1="343.00" y1="357.80" x2="343.00" y2="355.30" stroke="#111" stroke-width="1.2" stroke-linecap="butt"/>
<text x="356.00" y="362.40" font-size="13.8" font-weight="normal" text-anchor="start" fill="#111" >ADU-S100-CD8</text>
<line x1="336.30" y1="375.00" x2="349.80" y2="375.00" stroke="#111" stroke-width="1.5" stroke-linecap="butt" stroke-dasharray="1.5,1.8"/>
<line x1="343.00" y1="375.00" x2="343.00" y2="372.50" stroke="#111" stroke-width="1.2" stroke-linecap="butt"/>
<text x="356.00" y="379.60" font-size="13.8" font-weight="normal" text-anchor="start" fill="#111" >ADU-S100-CD4</text>
<text x="356.00" y="396.30" font-size="13.8" font-weight="normal" text-anchor="start" fill="#111" >and CD8</text>
<line x1="472.90" y1="304.40" x2="472.90" y2="378.50" stroke="#111" stroke-width="3.6" stroke-linecap="butt"/>
<line x1="466.00" y1="304.40" x2="479.40" y2="304.40" stroke="#111" stroke-width="3.6" stroke-linecap="round"/>
<line x1="466.00" y1="341.50" x2="479.40" y2="341.50" stroke="#111" stroke-width="3.6" stroke-linecap="round"/>
<line x1="466.00" y1="359.20" x2="479.40" y2="359.20" stroke="#111" stroke-width="3.6" stroke-linecap="round"/>
<line x1="466.00" y1="378.50" x2="479.40" y2="378.50" stroke="#111" stroke-width="3.6" stroke-linecap="round"/>
<line x1="449.20" y1="323.00" x2="479.40" y2="323.00" stroke="#111" stroke-width="3.4" stroke-linecap="round"/>
<text x="483.00" y="316.60" font-size="23.8" font-weight="bold" text-anchor="start" fill="#111" stroke="none" letter-spacing="0.1">**</text>
<text x="483.00" y="335.00" font-size="23.8" font-weight="bold" text-anchor="start" fill="#111" stroke="none" letter-spacing="0.1">**</text>
<text x="483.00" y="352.00" font-size="23.8" font-weight="bold" text-anchor="start" fill="#111" stroke="none" letter-spacing="0.1">*</text>
<text x="483.00" y="370.30" font-size="23.8" font-weight="bold" text-anchor="start" fill="#111" stroke="none" letter-spacing="0.1">*</text>
<text x="483.00" y="390.40" font-size="23.8" font-weight="bold" text-anchor="start" fill="#111" stroke="none" letter-spacing="0.1">****</text>
<text x="0.00" y="526.60" font-size="29" font-weight="bold" text-anchor="start" fill="#111"  stroke="#111" stroke-width="0.35">C</text>
<line x1="63.70" y1="551.65" x2="63.70" y2="756.15" stroke="#111" stroke-width="3.5" stroke-linecap="butt"/>
<line x1="61.95" y1="754.40" x2="368.65" y2="754.40" stroke="#111" stroke-width="3.5" stroke-linecap="butt"/>
<line x1="56.95" y1="754.40" x2="63.70" y2="754.40" stroke="#111" stroke-width="3.5" stroke-linecap="butt"/>
<text x="57.00" y="760.40" font-size="14.3" font-weight="bold" text-anchor="end" fill="#111"  stroke="#111" stroke-width="0.35">0</text>
<line x1="56.95" y1="720.90" x2="63.70" y2="720.90" stroke="#111" stroke-width="3.5" stroke-linecap="butt"/>
<text x="57.00" y="726.90" font-size="14.3" font-weight="bold" text-anchor="end" fill="#111"  stroke="#111" stroke-width="0.35">200</text>
<line x1="56.95" y1="687.40" x2="63.70" y2="687.40" stroke="#111" stroke-width="3.5" stroke-linecap="butt"/>
<text x="57.00" y="693.40" font-size="14.3" font-weight="bold" text-anchor="end" fill="#111"  stroke="#111" stroke-width="0.35">400</text>
<line x1="56.95" y1="653.90" x2="63.70" y2="653.90" stroke="#111" stroke-width="3.5" stroke-linecap="butt"/>
<text x="57.00" y="659.90" font-size="14.3" font-weight="bold" text-anchor="end" fill="#111"  stroke="#111" stroke-width="0.35">600</text>
<line x1="56.95" y1="620.40" x2="63.70" y2="620.40" stroke="#111" stroke-width="3.5" stroke-linecap="butt"/>
<text x="57.00" y="626.40" font-size="14.3" font-weight="bold" text-anchor="end" fill="#111"  stroke="#111" stroke-width="0.35">800</text>
<line x1="56.95" y1="586.90" x2="63.70" y2="586.90" stroke="#111" stroke-width="3.5" stroke-linecap="butt"/>
<text x="57.00" y="592.90" font-size="14.3" font-weight="bold" text-anchor="end" fill="#111"  stroke="#111" stroke-width="0.35"><tspan dx="0">1</tspan><tspan dx="-1.3">,</tspan><tspan dx="-0.6">000</tspan></text>
<line x1="56.95" y1="553.40" x2="63.70" y2="553.40" stroke="#111" stroke-width="3.5" stroke-linecap="butt"/>
<text x="57.00" y="559.40" font-size="14.3" font-weight="bold" text-anchor="end" fill="#111"  stroke="#111" stroke-width="0.35"><tspan dx="0">1</tspan><tspan dx="-1.3">,</tspan><tspan dx="-0.6">200</tspan></text>
<line x1="63.70" y1="754.40" x2="63.70" y2="761.15" stroke="#111" stroke-width="3.5" stroke-linecap="butt"/>
<text x="63.70" y="774.60" font-size="14.3" font-weight="bold" text-anchor="middle" fill="#111"  stroke="#111" stroke-width="0.35">0</text>
<line x1="101.60" y1="754.40" x2="101.60" y2="761.15" stroke="#111" stroke-width="3.5" stroke-linecap="butt"/>
<text x="101.60" y="774.60" font-size="14.3" font-weight="bold" text-anchor="middle" fill="#111"  stroke="#111" stroke-width="0.35">5</text>
<line x1="139.50" y1="754.40" x2="139.50" y2="761.15" stroke="#111" stroke-width="3.5" stroke-linecap="butt"/>
<text x="139.50" y="774.60" font-size="14.3" font-weight="bold" text-anchor="middle" fill="#111"  stroke="#111" stroke-width="0.35">10</text>
<line x1="177.40" y1="754.40" x2="177.40" y2="761.15" stroke="#111" stroke-width="3.5" stroke-linecap="butt"/>
<text x="177.40" y="774.60" font-size="14.3" font-weight="bold" text-anchor="middle" fill="#111"  stroke="#111" stroke-width="0.35">15</text>
<line x1="215.30" y1="754.40" x2="215.30" y2="761.15" stroke="#111" stroke-width="3.5" stroke-linecap="butt"/>
<text x="215.30" y="774.60" font-size="14.3" font-weight="bold" text-anchor="middle" fill="#111"  stroke="#111" stroke-width="0.35">20</text>
<line x1="253.20" y1="754.40" x2="253.20" y2="761.15" stroke="#111" stroke-width="3.5" stroke-linecap="butt"/>
<text x="253.20" y="774.60" font-size="14.3" font-weight="bold" text-anchor="middle" fill="#111"  stroke="#111" stroke-width="0.35">25</text>
<line x1="291.10" y1="754.40" x2="291.10" y2="761.15" stroke="#111" stroke-width="3.5" stroke-linecap="butt"/>
<text x="291.10" y="774.60" font-size="14.3" font-weight="bold" text-anchor="middle" fill="#111"  stroke="#111" stroke-width="0.35">30</text>
<line x1="329.00" y1="754.40" x2="329.00" y2="761.15" stroke="#111" stroke-width="3.5" stroke-linecap="butt"/>
<text x="329.00" y="774.60" font-size="14.3" font-weight="bold" text-anchor="middle" fill="#111"  stroke="#111" stroke-width="0.35">35</text>
<line x1="366.90" y1="754.40" x2="366.90" y2="761.15" stroke="#111" stroke-width="3.5" stroke-linecap="butt"/>
<text x="366.90" y="774.60" font-size="14.3" font-weight="bold" text-anchor="middle" fill="#111"  stroke="#111" stroke-width="0.35">40</text>
<text transform="translate(16.1,732.6) rotate(-90)" font-size="16.9" font-weight="bold" fill="#111" stroke="#111" stroke-width="0.35">Tumor volume (mm<tspan dy="-7" font-size="11.4">3</tspan><tspan dy="7">)</tspan></text>
<line x1="116.40" y1="781.30" x2="153.80" y2="781.30" stroke="#111" stroke-width="3.6" stroke-linecap="round"/>
<polygon points="152.80,777.70 163.80,781.30 152.80,784.90" fill="#111"/>
<text x="109.80" y="801.90" font-size="16.45" font-weight="bold" text-anchor="start" fill="#111"  stroke="#111" stroke-width="0.35">Days post NT2.5 challenge</text>
<polyline points="63.70,754.40 116.76,754.06 139.50,747.37 162.24,746.53 192.56,737.15 215.30,720.56 238.04,725.92 268.36,729.44 298.68,721.24 329.00,732.96 366.90,732.96" fill="none" stroke="#8a8a8a" stroke-width="1.4" stroke-linecap="butt" stroke-linejoin="miter" stroke-dasharray="5,3.2"/>
<polyline points="63.70,754.40 116.76,751.05 139.50,739.32 162.24,739.32 192.56,741.50 215.30,745.52 238.04,747.37 268.36,752.05 298.68,754.06 329.00,754.23 366.90,754.23" fill="none" stroke="#767676" stroke-width="3.0" stroke-linecap="butt" stroke-linejoin="miter"/>
<polyline points="63.70,754.40 116.76,748.87 139.50,735.30 162.24,721.74 192.56,697.62 215.30,696.28 238.04,686.90 268.36,686.39 298.68,689.07" fill="none" stroke="#111" stroke-width="3.0" stroke-linecap="butt" stroke-linejoin="miter"/>
<line x1="215.30" y1="710.51" x2="215.30" y2="715.56" stroke="#8a8a8a" stroke-width="1.9" stroke-linecap="butt"/>
<line x1="215.30" y1="725.56" x2="215.30" y2="729.44" stroke="#8a8a8a" stroke-width="1.9" stroke-linecap="butt"/>
<line x1="210.50" y1="710.51" x2="220.10" y2="710.51" stroke="#8a8a8a" stroke-width="1.9" stroke-linecap="butt"/>
<line x1="210.50" y1="729.44" x2="220.10" y2="729.44" stroke="#8a8a8a" stroke-width="1.9" stroke-linecap="butt"/>
<line x1="238.04" y1="718.39" x2="238.04" y2="720.92" stroke="#8a8a8a" stroke-width="1.9" stroke-linecap="butt"/>
<line x1="238.04" y1="730.92" x2="238.04" y2="734.47" stroke="#8a8a8a" stroke-width="1.9" stroke-linecap="butt"/>
<line x1="233.24" y1="718.39" x2="242.84" y2="718.39" stroke="#8a8a8a" stroke-width="1.9" stroke-linecap="butt"/>
<line x1="233.24" y1="734.47" x2="242.84" y2="734.47" stroke="#8a8a8a" stroke-width="1.9" stroke-linecap="butt"/>
<line x1="268.36" y1="719.73" x2="268.36" y2="724.44" stroke="#8a8a8a" stroke-width="1.9" stroke-linecap="butt"/>
<line x1="268.36" y1="734.44" x2="268.36" y2="739.83" stroke="#8a8a8a" stroke-width="1.9" stroke-linecap="butt"/>
<line x1="263.56" y1="719.73" x2="273.16" y2="719.73" stroke="#8a8a8a" stroke-width="1.9" stroke-linecap="butt"/>
<line x1="263.56" y1="739.83" x2="273.16" y2="739.83" stroke="#8a8a8a" stroke-width="1.9" stroke-linecap="butt"/>
<line x1="298.68" y1="706.16" x2="298.68" y2="716.24" stroke="#8a8a8a" stroke-width="1.9" stroke-linecap="butt"/>
<line x1="298.68" y1="726.24" x2="298.68" y2="736.64" stroke="#8a8a8a" stroke-width="1.9" stroke-linecap="butt"/>
<line x1="293.88" y1="706.16" x2="303.48" y2="706.16" stroke="#8a8a8a" stroke-width="1.9" stroke-linecap="butt"/>
<line x1="293.88" y1="736.64" x2="303.48" y2="736.64" stroke="#8a8a8a" stroke-width="1.9" stroke-linecap="butt"/>
<line x1="329.00" y1="723.41" x2="329.00" y2="727.96" stroke="#8a8a8a" stroke-width="1.9" stroke-linecap="butt"/>
<line x1="329.00" y1="737.96" x2="329.00" y2="742.34" stroke="#8a8a8a" stroke-width="1.9" stroke-linecap="butt"/>
<line x1="324.20" y1="723.41" x2="333.80" y2="723.41" stroke="#8a8a8a" stroke-width="1.9" stroke-linecap="butt"/>
<line x1="324.20" y1="742.34" x2="333.80" y2="742.34" stroke="#8a8a8a" stroke-width="1.9" stroke-linecap="butt"/>
<line x1="366.90" y1="722.41" x2="366.90" y2="727.96" stroke="#8a8a8a" stroke-width="1.9" stroke-linecap="butt"/>
<line x1="366.90" y1="737.96" x2="366.90" y2="743.85" stroke="#8a8a8a" stroke-width="1.9" stroke-linecap="butt"/>
<line x1="362.10" y1="722.41" x2="371.70" y2="722.41" stroke="#8a8a8a" stroke-width="1.9" stroke-linecap="butt"/>
<line x1="362.10" y1="743.85" x2="371.70" y2="743.85" stroke="#8a8a8a" stroke-width="1.9" stroke-linecap="butt"/>
<line x1="162.24" y1="717.55" x2="162.24" y2="725.09" stroke="#111" stroke-width="2.6" stroke-linecap="butt"/>
<line x1="156.74" y1="717.55" x2="167.74" y2="717.55" stroke="#111" stroke-width="2.6" stroke-linecap="butt"/>
<line x1="156.74" y1="725.09" x2="167.74" y2="725.09" stroke="#111" stroke-width="2.6" stroke-linecap="butt"/>
<line x1="192.56" y1="684.72" x2="192.56" y2="711.18" stroke="#111" stroke-width="2.6" stroke-linecap="butt"/>
<line x1="187.06" y1="684.72" x2="198.06" y2="684.72" stroke="#111" stroke-width="2.6" stroke-linecap="butt"/>
<line x1="187.06" y1="711.18" x2="198.06" y2="711.18" stroke="#111" stroke-width="2.6" stroke-linecap="butt"/>
<line x1="215.30" y1="682.88" x2="215.30" y2="710.51" stroke="#111" stroke-width="2.6" stroke-linecap="butt"/>
<line x1="209.80" y1="682.88" x2="220.80" y2="682.88" stroke="#111" stroke-width="2.6" stroke-linecap="butt"/>
<line x1="209.80" y1="710.51" x2="220.80" y2="710.51" stroke="#111" stroke-width="2.6" stroke-linecap="butt"/>
<line x1="238.04" y1="674.00" x2="238.04" y2="700.30" stroke="#111" stroke-width="2.6" stroke-linecap="butt"/>
<line x1="232.54" y1="674.00" x2="243.54" y2="674.00" stroke="#111" stroke-width="2.6" stroke-linecap="butt"/>
<line x1="232.54" y1="700.30" x2="243.54" y2="700.30" stroke="#111" stroke-width="2.6" stroke-linecap="butt"/>
<line x1="268.36" y1="671.99" x2="268.36" y2="701.64" stroke="#111" stroke-width="2.6" stroke-linecap="butt"/>
<line x1="262.86" y1="671.99" x2="273.86" y2="671.99" stroke="#111" stroke-width="2.6" stroke-linecap="butt"/>
<line x1="262.86" y1="701.64" x2="273.86" y2="701.64" stroke="#111" stroke-width="2.6" stroke-linecap="butt"/>
<line x1="298.68" y1="680.03" x2="298.68" y2="697.62" stroke="#111" stroke-width="2.6" stroke-linecap="butt"/>
<line x1="293.18" y1="680.03" x2="304.18" y2="680.03" stroke="#111" stroke-width="2.6" stroke-linecap="butt"/>
<line x1="293.18" y1="697.62" x2="304.18" y2="697.62" stroke="#111" stroke-width="2.6" stroke-linecap="butt"/>
<circle cx="63.70" cy="754.40" r="5.0" fill="none" stroke="#8a8a8a" stroke-width="1.6"/>
<circle cx="116.76" cy="754.06" r="5.0" fill="none" stroke="#8a8a8a" stroke-width="1.6"/>
<circle cx="139.50" cy="747.37" r="5.0" fill="none" stroke="#8a8a8a" stroke-width="1.6"/>
<circle cx="162.24" cy="746.53" r="5.0" fill="none" stroke="#8a8a8a" stroke-width="1.6"/>
<circle cx="192.56" cy="737.15" r="5.0" fill="none" stroke="#8a8a8a" stroke-width="1.6"/>
<circle cx="215.30" cy="720.56" r="5.0" fill="none" stroke="#8a8a8a" stroke-width="1.6"/>
<circle cx="238.04" cy="725.92" r="5.0" fill="none" stroke="#8a8a8a" stroke-width="1.6"/>
<circle cx="268.36" cy="729.44" r="5.0" fill="none" stroke="#8a8a8a" stroke-width="1.6"/>
<circle cx="298.68" cy="721.24" r="5.0" fill="none" stroke="#8a8a8a" stroke-width="1.6"/>
<circle cx="329.00" cy="732.96" r="5.0" fill="none" stroke="#8a8a8a" stroke-width="1.6"/>
<circle cx="366.90" cy="732.96" r="5.0" fill="none" stroke="#8a8a8a" stroke-width="1.6"/>
<circle cx="63.70" cy="754.40" r="5.0" fill="#767676"/>
<circle cx="116.76" cy="751.05" r="5.0" fill="#767676"/>
<circle cx="139.50" cy="739.32" r="5.0" fill="#767676"/>
<circle cx="162.24" cy="739.32" r="5.0" fill="#767676"/>
<circle cx="192.56" cy="741.50" r="5.0" fill="#767676"/>
<circle cx="215.30" cy="745.52" r="5.0" fill="#767676"/>
<circle cx="238.04" cy="747.37" r="5.0" fill="#767676"/>
<circle cx="268.36" cy="752.05" r="5.0" fill="#767676"/>
<circle cx="298.68" cy="754.06" r="5.0" fill="#767676"/>
<circle cx="329.00" cy="754.23" r="5.0" fill="#767676"/>
<circle cx="366.90" cy="754.23" r="5.0" fill="#767676"/>
<circle cx="63.70" cy="754.40" r="4.7" fill="#111"/>
<circle cx="116.76" cy="748.87" r="4.7" fill="#111"/>
<circle cx="139.50" cy="735.30" r="4.7" fill="#111"/>
<circle cx="162.24" cy="721.74" r="4.7" fill="#111"/>
<circle cx="192.56" cy="697.62" r="4.7" fill="#111"/>
<circle cx="215.30" cy="696.28" r="4.7" fill="#111"/>
<circle cx="238.04" cy="686.90" r="4.7" fill="#111"/>
<circle cx="268.36" cy="686.39" r="4.7" fill="#111"/>
<circle cx="298.68" cy="689.07" r="4.7" fill="#111"/>
<line x1="73.30" y1="554.70" x2="88.00" y2="554.70" stroke="#111" stroke-width="2.0" stroke-linecap="butt"/>
<circle cx="80.80" cy="554.70" r="4.7" fill="#111"/>
<text x="93.30" y="559.60" font-size="13.8" font-weight="normal" text-anchor="start" fill="#111" >HBSS-IgG</text>
<line x1="73.30" y1="573.50" x2="88.00" y2="573.50" stroke="#767676" stroke-width="2.0" stroke-linecap="butt"/>
<circle cx="80.80" cy="573.50" r="4.7" fill="#767676"/>
<text x="93.30" y="578.40" font-size="13.8" font-weight="normal" text-anchor="start" fill="#111" >ADU-S100-IgG</text>
<line x1="73.30" y1="592.30" x2="88.00" y2="592.30" stroke="#8a8a8a" stroke-width="2.0" stroke-linecap="butt"/>
<circle cx="80.80" cy="592.30" r="4.7" fill="none" stroke="#8a8a8a" stroke-width="1.6"/>
<text x="93.30" y="597.20" font-size="13.8" font-weight="normal" text-anchor="start" fill="#111" >ADU-S100-NK1.1</text>
<text x="0.40" y="800.70" font-size="29" font-weight="bold" text-anchor="start" fill="#111"  stroke="#111" stroke-width="0.35">D</text>
<line x1="63.80" y1="819.20" x2="63.80" y2="990.20" stroke="#111" stroke-width="4.0" stroke-linecap="butt"/>
<line x1="61.80" y1="988.20" x2="315.80" y2="988.20" stroke="#111" stroke-width="4.0" stroke-linecap="butt"/>
<line x1="58.30" y1="988.20" x2="63.80" y2="988.20" stroke="#111" stroke-width="4.0" stroke-linecap="butt"/>
<text x="56.60" y="991.80" font-size="12.2" font-weight="bold" text-anchor="end" fill="#111"  stroke="#111" stroke-width="0.35">0</text>
<line x1="58.30" y1="946.45" x2="63.80" y2="946.45" stroke="#111" stroke-width="4.0" stroke-linecap="butt"/>
<text x="56.60" y="950.05" font-size="12.2" font-weight="bold" text-anchor="end" fill="#111"  stroke="#111" stroke-width="0.35">25</text>
<line x1="58.30" y1="904.70" x2="63.80" y2="904.70" stroke="#111" stroke-width="4.0" stroke-linecap="butt"/>
<text x="56.60" y="908.30" font-size="12.2" font-weight="bold" text-anchor="end" fill="#111"  stroke="#111" stroke-width="0.35">50</text>
<line x1="58.30" y1="862.95" x2="63.80" y2="862.95" stroke="#111" stroke-width="4.0" stroke-linecap="butt"/>
<text x="56.60" y="866.55" font-size="12.2" font-weight="bold" text-anchor="end" fill="#111"  stroke="#111" stroke-width="0.35">75</text>
<line x1="58.30" y1="821.20" x2="63.80" y2="821.20" stroke="#111" stroke-width="4.0" stroke-linecap="butt"/>
<text x="56.60" y="824.80" font-size="12.2" font-weight="bold" text-anchor="end" fill="#111"  stroke="#111" stroke-width="0.35">100</text>
<line x1="63.80" y1="988.20" x2="63.80" y2="993.20" stroke="#111" stroke-width="4.0" stroke-linecap="butt"/>
<text x="63.80" y="1005.80" font-size="12" font-weight="bold" text-anchor="middle" fill="#111"  stroke="#111" stroke-width="0.35">0</text>
<line x1="95.05" y1="988.20" x2="95.05" y2="993.20" stroke="#111" stroke-width="4.0" stroke-linecap="butt"/>
<text x="95.05" y="1005.80" font-size="12" font-weight="bold" text-anchor="middle" fill="#111"  stroke="#111" stroke-width="0.35">5</text>
<line x1="126.30" y1="988.20" x2="126.30" y2="993.20" stroke="#111" stroke-width="4.0" stroke-linecap="butt"/>
<text x="126.30" y="1005.80" font-size="12" font-weight="bold" text-anchor="middle" fill="#111"  stroke="#111" stroke-width="0.35">10</text>
<line x1="157.55" y1="988.20" x2="157.55" y2="993.20" stroke="#111" stroke-width="4.0" stroke-linecap="butt"/>
<text x="157.55" y="1005.80" font-size="12" font-weight="bold" text-anchor="middle" fill="#111"  stroke="#111" stroke-width="0.35">15</text>
<line x1="188.80" y1="988.20" x2="188.80" y2="993.20" stroke="#111" stroke-width="4.0" stroke-linecap="butt"/>
<text x="188.80" y="1005.80" font-size="12" font-weight="bold" text-anchor="middle" fill="#111"  stroke="#111" stroke-width="0.35">20</text>
<line x1="220.05" y1="988.20" x2="220.05" y2="993.20" stroke="#111" stroke-width="4.0" stroke-linecap="butt"/>
<text x="220.05" y="1005.80" font-size="12" font-weight="bold" text-anchor="middle" fill="#111"  stroke="#111" stroke-width="0.35">25</text>
<line x1="251.30" y1="988.20" x2="251.30" y2="993.20" stroke="#111" stroke-width="4.0" stroke-linecap="butt"/>
<text x="251.30" y="1005.80" font-size="12" font-weight="bold" text-anchor="middle" fill="#111"  stroke="#111" stroke-width="0.35">30</text>
<line x1="282.55" y1="988.20" x2="282.55" y2="993.20" stroke="#111" stroke-width="4.0" stroke-linecap="butt"/>
<text x="282.55" y="1005.80" font-size="12" font-weight="bold" text-anchor="middle" fill="#111"  stroke="#111" stroke-width="0.35">35</text>
<line x1="313.80" y1="988.20" x2="313.80" y2="993.20" stroke="#111" stroke-width="4.0" stroke-linecap="butt"/>
<text x="313.80" y="1005.80" font-size="12" font-weight="bold" text-anchor="middle" fill="#111"  stroke="#111" stroke-width="0.35">40</text>
<text transform="translate(27.9,965) rotate(-90)" font-size="16.4" font-weight="bold" fill="#111" stroke="#111" stroke-width="0.35">Percent survival</text>
<line x1="108.20" y1="1011.20" x2="138.60" y2="1011.20" stroke="#111" stroke-width="3.4" stroke-linecap="round"/>
<polygon points="137.60,1007.35 149.60,1011.20 137.60,1015.05" fill="#111"/>
<text x="101.20" y="1027.20" font-size="13.8" font-weight="bold" text-anchor="start" fill="#111"  stroke="#111" stroke-width="0.35">Days post NT2.5 challenge</text>
<polyline points="63.80,821.20 314.43,821.20 314.43,821.20" fill="none" stroke="#777" stroke-width="2.8" stroke-linecap="butt" stroke-linejoin="miter"/>
<polyline points="188.80,821.20 188.80,821.20 188.80,837.90 232.55,837.90 232.55,837.90 232.55,837.90 232.55,854.60 314.43,854.60 314.43,854.60" fill="none" stroke="#787878" stroke-width="1.7" stroke-linecap="butt" stroke-linejoin="miter" stroke-dasharray="6,2.4"/>
<polyline points="63.80,821.20 163.80,821.20 163.80,821.20 163.80,821.20 163.80,837.90 188.80,837.90 188.80,837.90 188.80,837.90 188.80,871.30 207.55,871.30 207.55,871.30 207.55,871.30 207.55,904.70 313.80,904.70 313.80,904.70" fill="none" stroke="#111" stroke-width="3.0" stroke-linecap="butt" stroke-linejoin="miter"/>
<line x1="313.00" y1="905.70" x2="313.00" y2="901.90" stroke="#111" stroke-width="1.6" stroke-linecap="butt"/>
<line x1="313.00" y1="822.20" x2="313.00" y2="818.40" stroke="#777" stroke-width="1.6" stroke-linecap="butt"/>
<line x1="313.00" y1="855.10" x2="313.00" y2="852.10" stroke="#787878" stroke-width="1.3" stroke-linecap="butt"/>
<line x1="325.40" y1="821.00" x2="339.20" y2="821.00" stroke="#111" stroke-width="3.0" stroke-linecap="butt"/>
<line x1="332.40" y1="821.00" x2="332.40" y2="818.70" stroke="#111" stroke-width="1.2" stroke-linecap="butt"/>
<text x="345.70" y="825.40" font-size="14.0" font-weight="normal" text-anchor="start" fill="#111" >HBSS-IgG</text>
<line x1="325.40" y1="837.80" x2="339.20" y2="837.80" stroke="#777" stroke-width="2.8" stroke-linecap="butt"/>
<line x1="332.40" y1="837.80" x2="332.40" y2="835.50" stroke="#777" stroke-width="1.2" stroke-linecap="butt"/>
<text x="345.70" y="842.20" font-size="14.0" font-weight="normal" text-anchor="start" fill="#111" >ADU-S100-IgG</text>
<line x1="322.90" y1="854.60" x2="336.70" y2="854.60" stroke="#787878" stroke-width="1.6" stroke-linecap="butt" stroke-dasharray="5,2"/>
<line x1="329.90" y1="854.60" x2="329.90" y2="852.30" stroke="#787878" stroke-width="1.2" stroke-linecap="butt"/>
<text x="342.70" y="859.00" font-size="14.0" font-weight="normal" text-anchor="start" fill="#111" >ADU-S100-NK1.1</text>
<line x1="464.80" y1="836.50" x2="464.80" y2="855.20" stroke="#111" stroke-width="3.6" stroke-linecap="butt"/>
<line x1="457.30" y1="836.50" x2="472.90" y2="836.50" stroke="#111" stroke-width="3.6" stroke-linecap="round"/>
<line x1="457.30" y1="855.20" x2="472.90" y2="855.20" stroke="#111" stroke-width="3.6" stroke-linecap="round"/>
<text x="476.00" y="867.30" font-size="23.5" font-weight="bold" text-anchor="start" fill="#111" stroke="none">*</text>
</svg>
</body></html>
